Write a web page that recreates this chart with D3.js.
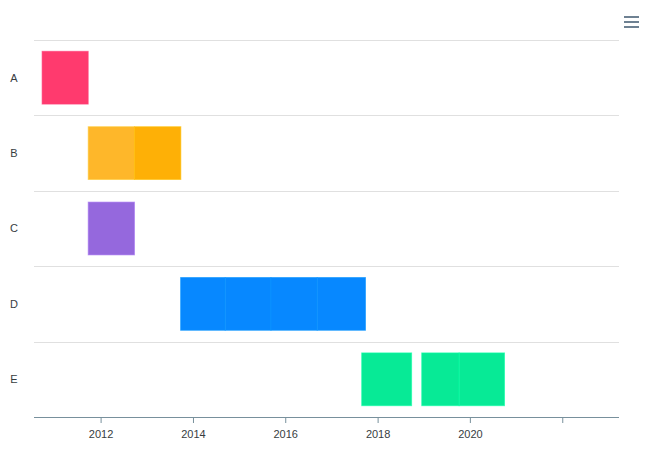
<!DOCTYPE html>
<html>
<head>
<meta charset="utf-8">
<script src="https://cdn.jsdelivr.net/npm/d3@7"></script>
<style>
  html, body { margin: 0; padding: 0; background: #fff; }
  svg { display: block; font-family: "Liberation Sans", Arial, Helvetica, sans-serif; }
</style>
</head>
<body>
<svg id="chart" width="646" height="464"></svg>
<script>
// ---- data ----
const categories = ["A", "B", "C", "D", "E"];
const taskCategory = ["A", "B", "B", "C", "D", "D", "D", "D", "E", "E", "E"];
const taskStart = ["2010-09-25", "2011-09-25", "2012-09-25", "2011-09-25", "2013-09-25", "2014-09-13", "2015-09-10", "2016-09-10", "2017-08-28", "2018-12-16", "2019-10-08"];
const taskEnd   = ["2011-09-25", "2012-09-25", "2013-09-27", "2012-09-25", "2014-09-13", "2015-09-10", "2016-09-10", "2017-09-27", "2018-09-27", "2019-10-08", "2020-10-01"];
const taskColor = ["#FF3A6E", "#FEB72A", "#FEB006", "#9568DD", "#0788FF", "#0788FF", "#0788FF", "#0788FF", "#07EA96", "#07EA96", "#07EA96"];
const tickYears = [2012, 2014, 2016, 2018, 2020, 2022];
const tickLabels = ["2012", "2014", "2016", "2018", "2020", ""];
const domainStart = "2010-07-23";
const domainEnd = "2023-03-26";

// ---- layout ----
const parse = d3.timeParse("%Y-%m-%d");
const svg = d3.select("#chart");
const mLeft = 34, mRight = 619, mTop = 40, mBottom = 417;

const x = d3.scaleTime()
  .domain([parse(domainStart), parse(domainEnd)])
  .range([mLeft, mRight]);

const y = d3.scaleBand()
  .domain(categories)
  .range([mTop, mBottom])
  .paddingInner(0).paddingOuter(0);

// gridlines (top of each band)
svg.append("g").selectAll("line")
  .data(categories)
  .join("line")
  .attr("x1", mLeft).attr("x2", mRight)
  .attr("y1", d => Math.round(y(d)) + 0.5).attr("y2", d => Math.round(y(d)) + 0.5)
  .attr("stroke", "#e0e0e0").attr("stroke-width", 1);

// bars
const tasks = taskCategory.map((c, i) => ({
  cat: c, start: parse(taskStart[i]), end: parse(taskEnd[i]), color: taskColor[i]
}));
const barH = y.bandwidth() * 0.7;
svg.append("g").selectAll("rect")
  .data(tasks)
  .join("rect")
  .attr("x", d => x(d.start))
  .attr("width", d => x(d.end) - x(d.start))
  .attr("y", d => y(d.cat) + (y.bandwidth() - barH) / 2)
  .attr("height", barH)
  .attr("fill", d => d.color)
  .attr("stroke", d => d3.color(d.color).brighter(0.25))
  .attr("stroke-opacity", 0.6)
  .attr("stroke-width", 1);

// y labels
svg.append("g").selectAll("text")
  .data(categories)
  .join("text")
  .attr("x", 14)
  .attr("y", d => y(d) + y.bandwidth() / 2)
  .attr("dy", "0.35em")
  .attr("text-anchor", "middle")
  .attr("font-size", 11)
  .attr("fill", "#373d3f")
  .text(d => d);

// x axis
const tickDates = tickYears.map(yr => new Date(yr, 0, 1));
const xAxis = d3.axisBottom(x)
  .tickValues(tickDates)
  .tickSize(6)
  .tickPadding(7)
  .tickFormat((d, i) => tickLabels[i]);
const ax = svg.append("g")
  .attr("transform", `translate(0,${mBottom})`)
  .call(xAxis);
ax.select(".domain").attr("stroke", "#78909C").attr("d", `M${mLeft},0.5H${mRight}`);
ax.selectAll(".tick line").attr("stroke", "#78909C");
ax.selectAll(".tick text")
  .attr("font-size", 11)
  .attr("font-family", "Liberation Sans, Arial, sans-serif")
  .attr("fill", "#373d3f");

// menu icon
const menu = svg.append("g").attr("transform", "translate(624,16)");
[0, 5, 10].forEach(dy => {
  menu.append("rect").attr("x", 0).attr("y", dy).attr("width", 15).attr("height", 2)
    .attr("fill", "#6E8192");
});
</script>
</body>
</html>
